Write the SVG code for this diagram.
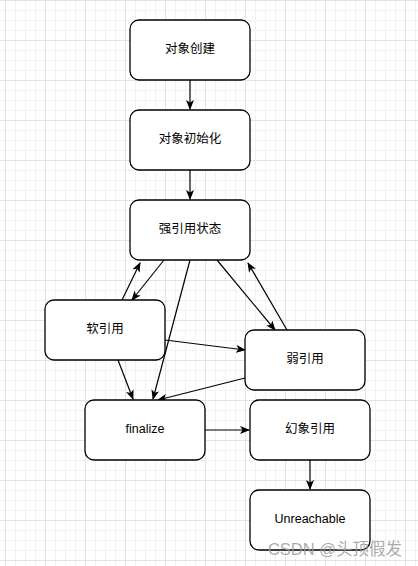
<svg xmlns="http://www.w3.org/2000/svg" width="418" height="566" viewBox="0 0 418 566">
  <defs>
    <pattern id="minor" width="10" height="10" patternUnits="userSpaceOnUse" x="5" y="0">
      <path d="M0 0.5H10M0.5 0V10" fill="none" stroke="#f2f2f2" stroke-width="1"/>
    </pattern>
    <pattern id="major" width="40" height="40" patternUnits="userSpaceOnUse" x="5" y="0">
      <path d="M0 0.5H40M0.5 0V40" fill="none" stroke="#e3e3e3" stroke-width="1"/>
    </pattern>
    <marker id="arr" viewBox="0 0 10 8" refX="9" refY="4" markerWidth="10" markerHeight="8" markerUnits="userSpaceOnUse" orient="auto">
      <path d="M0 0L10 4L0 8L2.5 4Z" fill="#000"/>
    </marker>
  </defs>
  <style>
    .node rect { fill: #fff; stroke: #000; stroke-width: 1.3; }
    .node text { font-family: "Liberation Sans", "Noto Sans CJK SC", sans-serif; font-size: 12.5px; fill: #000; text-anchor: middle; dominant-baseline: central; }
    .edges line { stroke: #000; stroke-width: 1.2; marker-end: url(#arr); }
  </style>
  <rect width="418" height="566" fill="#fff"/>
  <rect width="418" height="566" fill="url(#minor)"/>
  <rect width="418" height="566" fill="url(#major)"/>

  <g class="edges" id="connectors">
    <line x1="190" y1="80" x2="190" y2="109"/>
    <line x1="190" y1="170" x2="190" y2="199"/>
    <line x1="164" y1="260" x2="132" y2="300"/>
    <line x1="122" y1="300" x2="140" y2="263"/>
    <line x1="190" y1="260" x2="153" y2="399"/>
    <line x1="118" y1="360" x2="133" y2="399"/>
    <line x1="165" y1="340" x2="245" y2="350"/>
    <line x1="245" y1="378" x2="158" y2="400"/>
    <line x1="217" y1="260" x2="275" y2="330"/>
    <line x1="287" y1="330" x2="248" y2="263"/>
    <line x1="205" y1="430" x2="249" y2="430"/>
    <line x1="310" y1="460" x2="310" y2="489"/>
  </g>

  <g class="node" id="n-create"><rect x="130" y="20" width="120" height="60" rx="9"/><text x="190" y="49">对象创建</text></g>
  <g class="node" id="n-init"><rect x="130" y="110" width="120" height="60" rx="9"/><text x="190" y="139">对象初始化</text></g>
  <g class="node" id="n-strong"><rect x="130" y="200" width="120" height="60" rx="9"/><text x="190" y="229">强引用状态</text></g>
  <g class="node" id="n-soft"><rect x="45" y="300" width="120" height="60" rx="9"/><text x="105" y="329">软引用</text></g>
  <g class="node" id="n-weak"><rect x="245" y="330" width="120" height="60" rx="9"/><text x="305" y="359">弱引用</text></g>
  <g class="node" id="n-finalize"><rect x="85" y="400" width="120" height="60" rx="9"/><text x="145" y="429">finalize</text></g>
  <g class="node" id="n-phantom"><rect x="250" y="400" width="120" height="60" rx="9"/><text x="310" y="429">幻象引用</text></g>
  <g class="node" id="n-unreach"><rect x="250" y="490" width="120" height="60" rx="9"/><text x="310" y="519">Unreachable</text></g>

  <text x="402" y="555" text-anchor="end" font-family="'Liberation Sans', 'Noto Sans CJK SC', sans-serif" font-size="16.5" fill="#9a9a9a" fill-opacity="0.85">CSDN @头顶假发</text>
</svg>
